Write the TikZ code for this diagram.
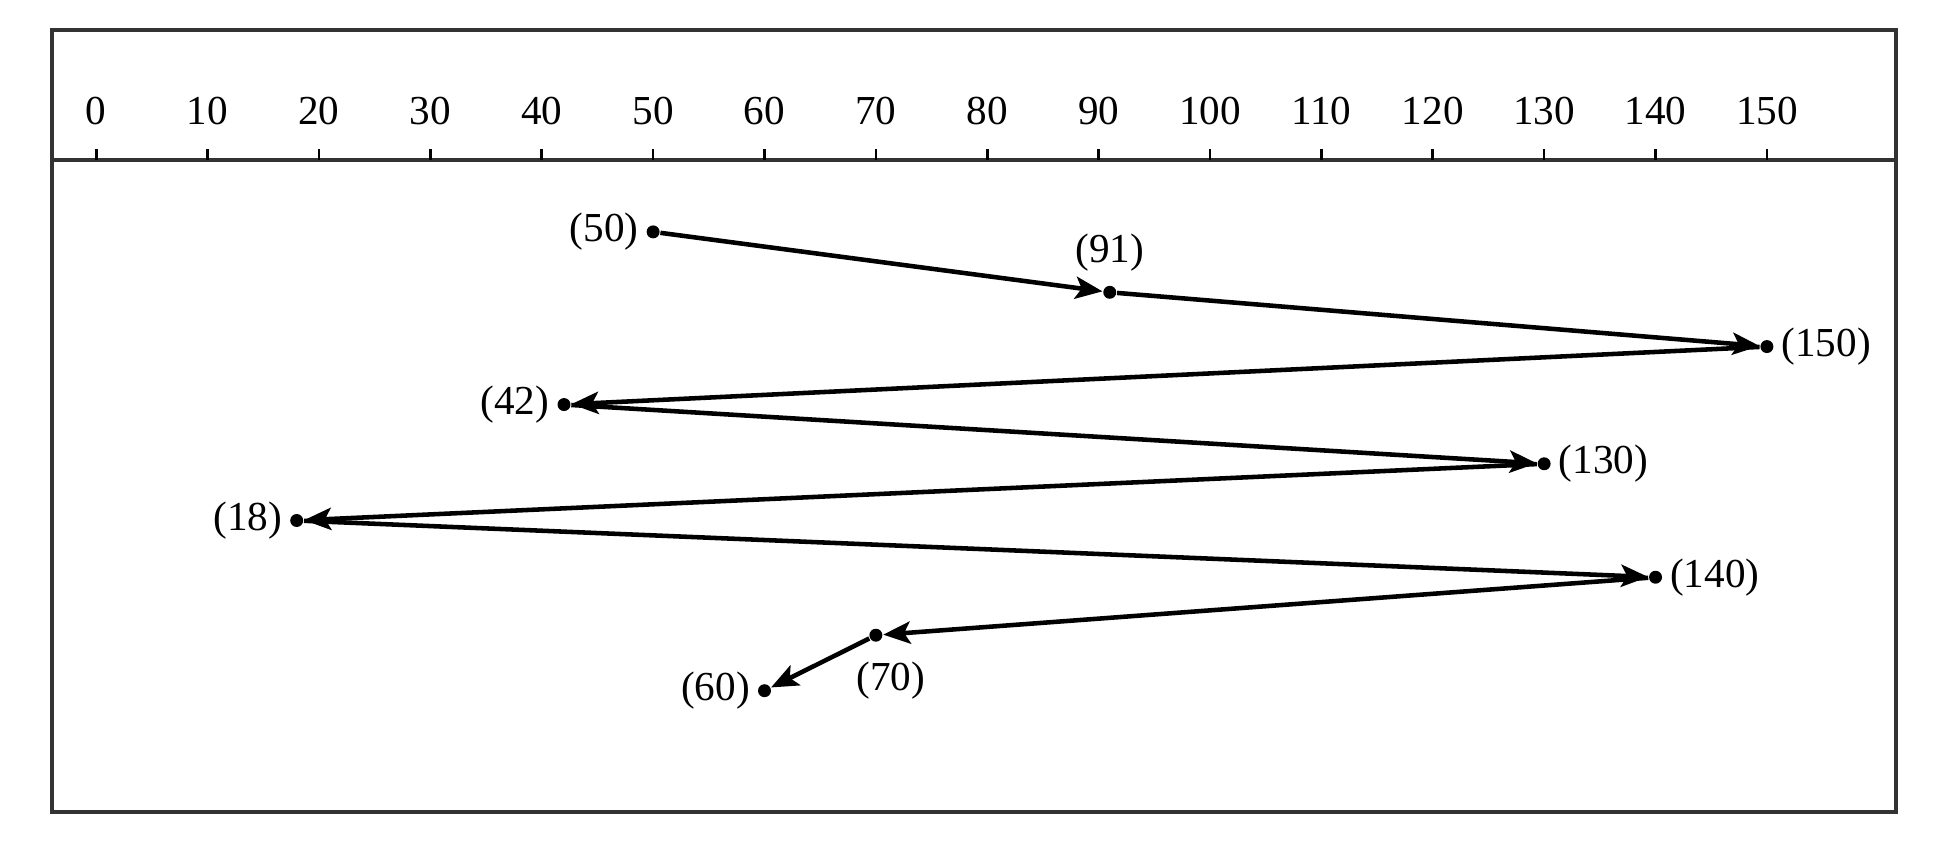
\documentclass[tikz,border=0pt]{standalone}
\usepackage{fontspec}
\setmainfont{Liberation Serif}
\usepackage{tikz}
\usetikzlibrary{positioning, arrows.meta}

\begin{document}
\begin{tikzpicture}[>={Stealth[length=2.2mm, width=1.8mm, inset=0.5mm]}, font=\fontsize{9.5}{11}\selectfont]
        \tikzstyle{pt}=[circle, fill, inner sep=0pt, minimum size=1.05mm];
        \tikzstyle{seek}=[line width=1.05pt];
        \tikzstyle{lbl}=[inner sep=1.5pt];
        \useasboundingbox (0,0) rectangle (15.68,6.90);
        \draw[line width=0.9pt, black!80] (0.42,0.32) rectangle (15.37,6.66);
        \draw[line width=0.9pt, black!80] (0.42,5.60) -- (15.37,5.60);
        \begin{scope}[xshift=0.78cm, x=0.0903cm]
        \foreach \v in {0,10,...,150}
          \draw[line width=0.6pt] (\v,5.60) -- (\v,5.69) node[above=0.07cm] (t\v) {\v};
        \node[pt] (p50) at (50,5.02) {};
        \node[pt] (p91) at (91,4.53) {};
        \node[pt] (p150) at (150,4.09) {};
        \node[pt] (p42) at (42,3.62) {};
        \node[pt] (p130) at (130,3.14) {};
        \node[pt] (p18) at (18,2.68) {};
        \node[pt] (p140) at (140,2.22) {};
        \node[pt] (p70) at (70,1.75) {};
        \node[pt] (p60) at (60,1.30) {};
        \end{scope}
        \node[lbl, left=0pt of p50] (l50) {(50)};
        \node[lbl, above=0.05cm of p91] (l91) {(91)};
        \node[lbl, right=0pt of p150] (l150) {(150)};
        \node[lbl, left=0pt of p42] (l42) {(42)};
        \node[lbl, right=0pt of p130] (l130) {(130)};
        \node[lbl, left=0pt of p18] (l18) {(18)};
        \node[lbl, right=0pt of p140] (l140) {(140)};
        \node[lbl, below=0.1cm of p70, xshift=0.12cm] (l70) {(70)};
        \node[lbl, left=0pt of p60] (l60) {(60)};

        \path[->, seek]
        (p50) edge (p91)
        (p91) edge (p150)
        (p150) edge (p42)
        (p42) edge (p130)
        (p130) edge (p18)
        (p18) edge (p140)
        (p140) edge (p70)
        (p70) edge (p60);
\end{tikzpicture}
\end{document}
